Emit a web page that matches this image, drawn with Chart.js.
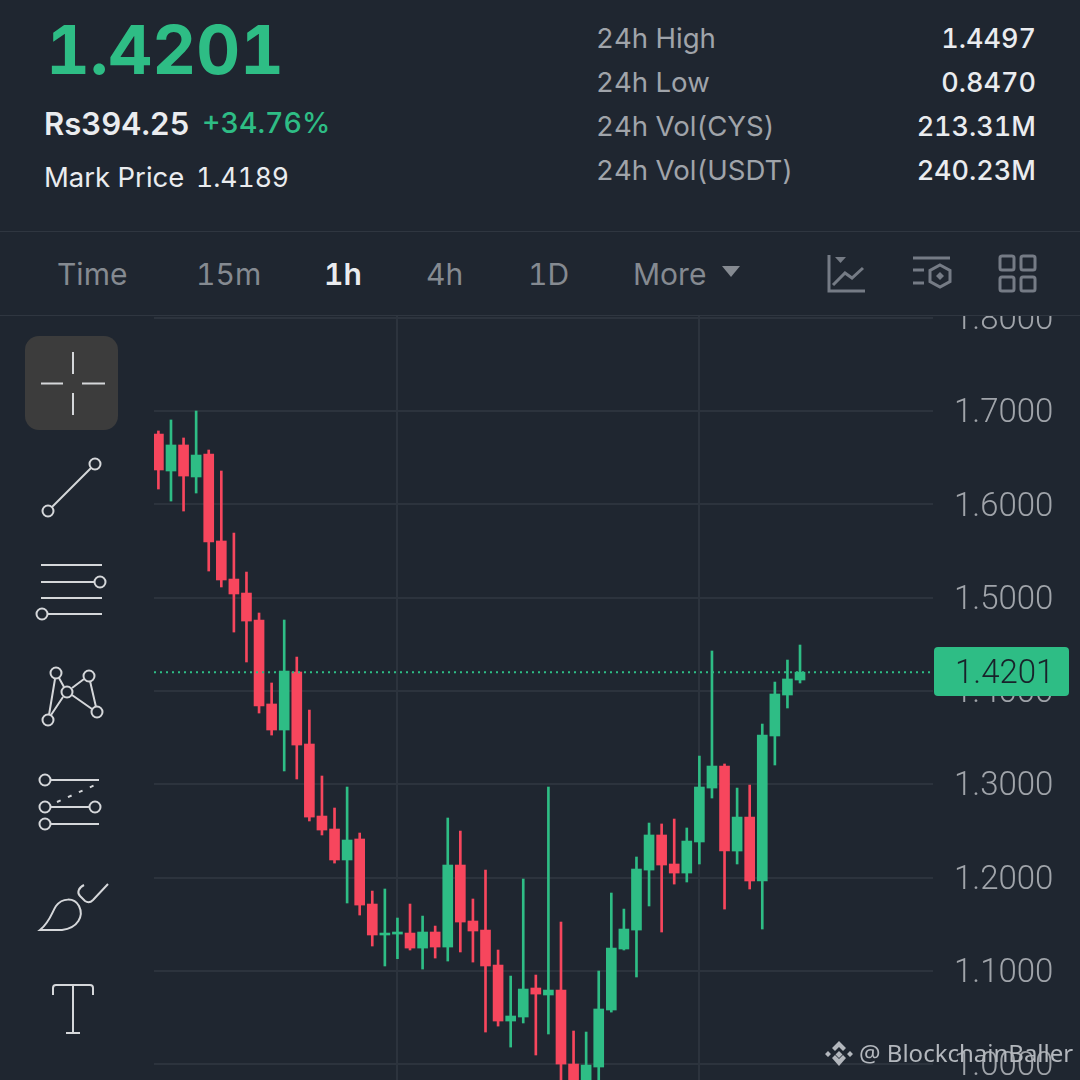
<!DOCTYPE html>
<html>
<head>
<meta charset="utf-8">
<script src="https://cdn.jsdelivr.net/npm/chart.js@4/dist/chart.umd.min.js"></script>
<style>
  html, body { margin: 0; padding: 0; background: #1f2630; }
  body { width: 1080px; height: 1080px; overflow: hidden; position: relative; font-family: Inter, "Noto Sans", sans-serif; color: #eaecef; font-variant-numeric: tabular-nums; }
  .t { position: absolute; white-space: nowrap; line-height: 1; }
  .lbl { left: 596px; font-size: 27.600px; color: #a0a4aa; }
  .val { right: 44px; font-size: 27px; font-weight: 500; text-align: right; }
  .tab { top: 259px; font-size: 30px; color: #858a91; }
  .rule { position: absolute; left: 0; width: 1080px; height: 1px; background: #2f3640; }
  #chart { position: absolute; left: 0; top: 315px; }
  #icons { position: absolute; left: 0; top: 0; }
</style>
</head>
<body>
<canvas id="chart" width="1080" height="765"></canvas>

<div class="t" style="left:46px;top:15px;font-size:68px;font-weight:700;color:#2ebd85">1.4201</div>
<div class="t" style="left:44px;top:108px;font-size:31px;font-weight:600">Rs394.25</div>
<div class="t" style="left:202px;top:109px;font-size:28.500px;font-weight:500;color:#2ebd85">+34.76%</div>
<div class="t" style="left:44px;top:164px;font-size:27.500px">Mark Price</div>
<div class="t" style="left:196px;top:164px;font-size:26.500px">1.4189</div>

<div class="t lbl" style="top:25px">24h High</div>
<div class="t lbl" style="top:69px">24h Low</div>
<div class="t lbl" style="top:113px">24h Vol(CYS)</div>
<div class="t lbl" style="top:157px">24h Vol(USDT)</div>
<div class="t val" style="top:25px">1.4497</div>
<div class="t val" style="top:69px">0.8470</div>
<div class="t val" style="top:113px">213.31M</div>
<div class="t val" style="top:157px">240.23M</div>

<div class="rule" style="top:231px"></div>
<div class="t tab" style="left:57px">Time</div>
<div class="t tab" style="left:196px">15m</div>
<div class="t tab" style="left:324px;color:#eaecef;font-weight:600">1h</div>
<div class="t tab" style="left:426px">4h</div>
<div class="t tab" style="left:528px">1D</div>
<div class="t tab" style="left:633px">More</div>
<div class="rule" style="top:315px"></div>

<svg id="icons" width="1080" height="1080" fill="none">
  <path d="M722 266h18l-9 11z" fill="#858a91"/>
  <g stroke="#757b85" stroke-width="3">
    <path d="M829 255v36h36"/>
    <path d="M833 285l12-12 7 5 11-10"/>
    <path d="M835 257h11l-5.500 6z" fill="#757b85" stroke="none"/>
    <path d="M913 258h37M913 270h11M913 283h11"/>
    <path d="M940 265l10 5.500v11l-10 5.500-10-5.500v-11z"/>
    <path d="M940 272l4 4-4 4-4-4z" fill="#757b85" stroke="none"/>
    <rect x="1000" y="256" width="14" height="14" rx="2"/>
    <rect x="1021" y="256" width="14" height="14" rx="2"/>
    <rect x="1000" y="277" width="14" height="14" rx="2"/>
    <rect x="1021" y="277" width="14" height="14" rx="2"/>
  </g>
  <rect x="25" y="336" width="93" height="94" rx="14" fill="#3c3c3c"/>
  <g stroke="#d5d7da" stroke-width="2">
    <path d="M73 352v22M73 393v22M41 383.500h22M82 383.500h23"/>
    <circle cx="48" cy="511" r="5.500"/><circle cx="95" cy="464" r="5.500"/>
    <path d="M52 507l39-39"/>
    <path d="M41 565h61M41 582h53M41 598h61M48 614h54"/>
    <circle cx="100" cy="582" r="5.500"/><circle cx="42" cy="614" r="5.500"/>
    <circle cx="56" cy="673" r="5.500"/><circle cx="89" cy="676" r="5.500"/><circle cx="67" cy="692" r="5.500"/><circle cx="48" cy="720" r="5.500"/><circle cx="97" cy="712" r="5.500"/>
    <path d="M55 679l-6 36M59 678l5 9M63 697l-12 18M72 688l12-9M72 695l20 14M90 681l6 26"/>
    <circle cx="45" cy="780" r="5.500"/><circle cx="45" cy="807" r="5.500"/><circle cx="95" cy="807" r="5.500"/><circle cx="45" cy="824" r="5.500"/>
    <path d="M51 780h48M51 807h38M51 824h48"/>
    <path d="M57 802l38-17" stroke-dasharray="4 8"/>
    <path d="M40 930c10-8 12-18 16-24 6-8 18-9 23 0 5 10-1 22-17 24z"/>
    <path d="M84 885c-6 3-7 8-4 11l5 5c3 2 6 1 8-1l15-16"/>
    <path d="M53 995v-7q0-3 3-3h34q3 0 3 3v7M73 985v48M66 1033h14"/>
  </g>
  <g fill="#b3b7bd">
    <path d="M839 1041l7 7-3 3-4-4-4 4-3-3z"/>
    <path d="M839 1051l3.500 3.500-3.500 3.500-3.500-3.500z"/>
    <path d="M828 1051l3 3-3 3-3-3zM850 1051l3 3-3 3-3-3z"/>
    <path d="M832 1058l3-3 4 4 4-4 3 3-7 8z"/>
  </g>
</svg>
<div class="t" style="left:859px;top:1041px;font-size:24px;font-family:'Noto Sans';color:#b3b7bd">@ BlockchainBaller</div>

<script>
const tickValues = [1.0, 1.1, 1.2, 1.3, 1.4, 1.5, 1.6, 1.7, 1.8]
const timeTicks = [19, 43]
const lastPrice = 1.4201

const opens = [1.6753, 1.6357, 1.6636, 1.6293, 1.6539, 1.5607, 1.5199, 1.5049, 1.4760, 1.3860,
  1.3581, 1.4203, 1.3431, 1.2659, 1.2520, 1.2188, 1.2413, 1.1716, 1.1384, 1.1394,
  1.1405, 1.1244, 1.1416, 1.1255, 1.2134, 1.1534, 1.1437, 1.1062, 1.0462, 1.0505,
  1.0816, 1.0741, 1.0794, 1.0001, 0.9750, 0.9969, 1.0580, 1.1234, 1.1437, 1.2080,
  1.2456, 1.2145, 1.2048, 1.2381, 1.2959, 1.3195, 1.2284, 1.2648, 1.1963, 1.3517,
  1.3956, 1.4117]
const closes = [1.6368, 1.6636, 1.6303, 1.6528, 1.5596, 1.5189, 1.5039, 1.4749, 1.3838, 1.3581,
  1.4213, 1.3420, 1.2648, 1.2509, 1.2188, 1.2402, 1.1705, 1.1384, 1.1405, 1.1416,
  1.1244, 1.1416, 1.1255, 1.2134, 1.1523, 1.1427, 1.1052, 1.0462, 1.0516, 1.0805,
  1.0751, 1.0794, 1.0001, 0.9750, 0.9990, 1.0591, 1.1244, 1.1448, 1.2091, 1.2456,
  1.2134, 1.2048, 1.2391, 1.2970, 1.3195, 1.2284, 1.2648, 1.1963, 1.3527, 1.3967,
  1.4128, 1.4201]
const highs = [1.6786, 1.6904, 1.6711, 1.7000, 1.6582, 1.6357, 1.5692, 1.5274, 1.4835, 1.4085,
  1.4760, 1.4363, 1.3795, 1.3088, 1.2745, 1.2970, 1.2477, 1.1855, 1.1877, 1.1566,
  1.1716, 1.1587, 1.1480, 1.2638, 1.2498, 1.1770, 1.2080, 1.1223, 1.0944, 1.1984,
  1.0955, 1.2970, 1.1523, 1.0355, 1.0344, 1.0998, 1.1834, 1.1662, 1.2220, 1.2584,
  1.2574, 1.2627, 1.2531, 1.3302, 1.4428, 1.3217, 1.2959, 1.2991, 1.3645, 1.4095,
  1.4331, 1.4492]
const lows = [1.6164, 1.6035, 1.5928, 1.6121, 1.5285, 1.5114, 1.4631, 1.4310, 1.3763, 1.3527,
  1.3142, 1.3056, 1.2606, 1.2456, 1.2155, 1.1727, 1.1598, 1.1266, 1.1052, 1.1130,
  1.1223, 1.1019, 1.1137, 1.1105, 1.1202, 1.1094, 1.0344, 1.0408, 1.0183, 1.0441,
  1.0098, 1.0323, 0.9700, 0.9600, 0.9600, 0.9750, 1.0558, 1.1223, 1.0934, 1.1695,
  1.1416, 1.1930, 1.1952, 1.2145, 1.2852, 1.1662, 1.2145, 1.1877, 1.1448, 1.3206,
  1.3817, 1.4085]

const green = '#2ebd85'
const red = '#f7465d'
const grid = '#2c333d'
const colors = opens.map((o, i) => closes[i] >= o ? green : red)

// draws the last price flag on top of the axis labels
const priceTag = {
  id: 'priceTag',
  afterDraw(chart) {
    const ctx = chart.ctx
    const y = chart.scales.y.getPixelForValue(lastPrice)
    ctx.save()
    ctx.fillStyle = green
    ctx.beginPath()
    ctx.roundRect(934, Math.round(y) - 25, 135, 49, 4)
    ctx.fill()
    ctx.fillStyle = '#18222a'
    ctx.font = '300 33px Roboto'
    ctx.textBaseline = 'middle'
    ctx.fillText(lastPrice.toFixed(4), 955, y + 3)
    ctx.restore()
  }
}

new Chart(document.getElementById('chart'), {
  type: 'bar',
  plugins: [priceTag],
  data: {
    datasets: [
      {
        type: 'line',
        data: [{ x: -0.35, y: lastPrice }, { x: 61.57, y: lastPrice }],
        borderColor: green,
        borderWidth: 2,
        borderDash: [2, 4],
        pointRadius: 0,
        order: 0
      },
      {
        data: opens.map((o, i) => ({ x: i, y: [o, closes[i]] })),
        backgroundColor: colors,
        barThickness: 10,
        order: 1
      },
      {
        data: lows.map((l, i) => ({ x: i, y: [l, highs[i]] })),
        backgroundColor: colors,
        barThickness: 2,
        order: 2
      }
    ]
  },
  options: {
    responsive: false,
    animation: false,
    layout: { padding: { left: 154, top: 0, right: 0, bottom: 0 } },
    plugins: { legend: { display: false }, tooltip: { enabled: false } },
    datasets: { bar: { grouped: false } },
    scales: {
      x: {
        type: 'linear',
        offset: false,
        min: -0.35,
        max: 61.57,
        afterBuildTicks: (scale) => { scale.ticks = timeTicks.map((v) => ({ value: v })) },
        grid: { color: grid, lineWidth: 2, drawTicks: false, offset: false },
        border: { display: false },
        ticks: { display: false }
      },
      y: {
        position: 'right',
        min: 0.983,
        max: 1.8029,
        afterBuildTicks: (scale) => { scale.ticks = tickValues.map((v) => ({ value: v })) },
        afterFit: (scale) => {
          // plot runs to the canvas edge, the 1.8000 label gets cut like in the app
          scale.width = 147
          scale.paddingTop = 0
          scale.paddingBottom = 0
        },
        grid: { color: grid, lineWidth: 2, drawTicks: false },
        border: { display: false },
        ticks: {
          color: '#a0a4aa',
          font: { family: 'Roboto', size: 33, weight: '300' },
          padding: 21,
          labelOffset: 3,
          autoSkip: false,
          callback: (v) => v.toFixed(4)
        }
      }
    }
  }
})
</script>
</body>
</html>
